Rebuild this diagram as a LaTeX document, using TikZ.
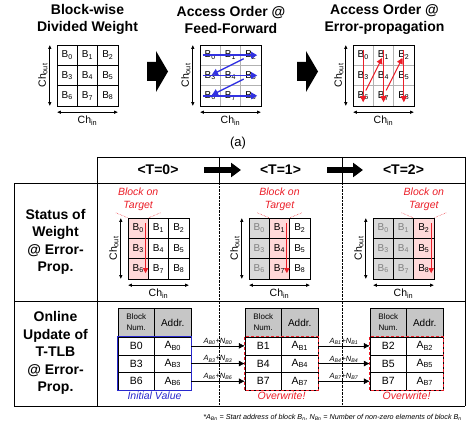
\documentclass[tikz,border=0pt]{standalone}
\usepackage{fontspec}
\setmainfont{Liberation Sans}
\usetikzlibrary{arrows.meta,positioning,calc}

\definecolor{ffblue}{RGB}{50,50,225}
\definecolor{bpred}{RGB}{235,30,40}
\definecolor{initblue}{RGB}{40,40,205}

\tikzset{
  cell/.style={draw, minimum size=20.33pt, inner sep=0pt, font=\fontsize{10}{12}\selectfont},
  chaxis/.style={line width=0.8pt, {Latex[length=4pt,width=3.5pt]}-{Latex[length=4pt,width=3.5pt]}},
  axlabel/.style={inner sep=0pt, font=\fontsize{10.5}{12}\selectfont},
  ttlstyle/.style={align=center, font=\bfseries\fontsize{14}{17}\selectfont},
  rowlabel/.style={align=center, font=\bfseries\fontsize{14}{17.5}\selectfont},
  tgtlabel/.style={align=center, text=bpred, inner sep=2pt, font=\itshape\fontsize{10.5}{13}\selectfont},
  tgtline/.style={bpred, densely dotted, line width=0.5pt},
  hdcell/.style={draw, fill=gray!45, minimum width=36.5pt, minimum height=29pt, inner sep=0pt, align=center},
  tcell/.style={draw, minimum width=36.5pt, minimum height=17.7pt, inner sep=0pt, font=\fontsize{10.5}{12}\selectfont},
  ffarrow/.style={ffblue, line width=1.4pt, -{Triangle[length=6pt,width=6.5pt]}},
  bparrow/.style={bpred, line width=1pt, -{Triangle[length=6pt,width=6pt]}},
  tgtarrow/.style={bpred, line width=1.2pt, -{Triangle[length=5pt,width=5pt]}},
  tblarrow/.style={line width=0.6pt, -{Latex[length=6pt,width=6pt]}},
  headarrow/.style={line width=6pt, -{Triangle[length=10pt,width=14pt]}},
  steplabel/.style={font=\itshape\fontsize{7.5}{9}\selectfont, inner sep=1pt},
}

\begin{document}
\begin{tikzpicture}[x=1pt,y=-1pt]
\useasboundingbox (0,0) rectangle (474,425);

% titles of part (a)
\node[ttlstyle] (ttla) at (87.5,19.5) {Block-wise\\Divided Weight};
\node[ttlstyle] (ttlb) at (231,19.5) {Access Order @\\Feed-Forward};
\node[ttlstyle] (ttlc) at (384.5,19.5) {Access Order @\\Error-propagation};

% weight grids
\foreach \g/\gx/\gy/\ng/\tc/\lc in
{a/57/45/0/9/black,
    b/200/45/0/9/gray!60,
    c/353/45/0/9/gray!60,
    s/128/218/0/0/black,
    t/249/218/1/1/black,
    u/373/218/2/2/black}
{
    \foreach \r in {0,1,2}
    \foreach \c in {0,1,2}
    {
        \pgfmathtruncatemacro\n{3*\r+\c}
        \ifnum\c<\ng \def\fc{gray!30}\def\tcol{gray}\else\ifnum\c=\tc \def\fc{red!15}\def\tcol{black}\else\def\fc{white}\def\tcol{black}\fi\fi
        \node[cell, draw=\lc, fill=\fc, text=\tcol] (\g\n) at ({\gx+20.33*\c+10.17},{\gy+20.33*\r+10.17}) {B\textsubscript{\n}};
    }
    \draw (\g0.north west) rectangle (\g8.south east);
    \draw[chaxis] ([xshift=-7pt]\g0.north west) -- ([xshift=-7pt]\g6.south west);
    \draw[chaxis] ([yshift=-6pt]\g6.south west) -- ([yshift=-6pt]\g8.south east);
    \node[axlabel, rotate=90] (\g-out) at ([xshift=-14pt]\g3.west) {Ch\textsubscript{out}};
    \node[axlabel] (\g-in) at ([yshift=-14.5pt]\g7.south) {Ch\textsubscript{in}};
};

% big arrows between grids
\foreach \ax in {147,297}
{
    \fill (\ax,62) -- ++(9,0) -- ++(0,-11) -- ++(12,20.5) -- ++(-12,20.5) -- ++(0,-11) -- ++(-9,0) -- cycle;
};

% feed-forward order
\foreach \u/\v in {b0/b2, b3/b5, b6/b8}
{
    \draw[ffarrow] ([xshift=3pt]\u.west) -- ([xshift=-4pt]\v.east);
};
\draw[ffarrow, shorten <=8pt, shorten >=2pt] (b2.center) -- (b3.center);
\draw[ffarrow, shorten <=8pt, shorten >=2pt] (b5.center) -- (b6.center);

% error-propagation order
\foreach \u/\v in {c0/c6, c1/c7, c2/c8}
{
    \draw[bparrow] ([yshift=-5pt]\u.north) -- ([yshift=4pt]\v.south);
};
\draw[bparrow, shorten <=6pt, shorten >=3pt] (c6.center) -- (c1.center);
\draw[bparrow, shorten <=6pt, shorten >=3pt] (c7.center) -- (c2.center);

\node[font=\fontsize{13}{15}\selectfont] (capa) at (238,143) {(a)};

% table frame
\draw (97,157) -- (465,157);
\draw (14,183) -- (465,183);
\draw (14,301) -- (465,301);
\draw (14,406) -- (465,406);
\draw (14,183) -- (14,406);
\draw (465,157) -- (465,406);
\draw (97,157) -- (97,406);
\draw (219,157) -- (219,183);
\draw (342,157) -- (342,183);
\draw[densely dotted] (219,183) -- (219,406);
\draw[densely dotted] (342,183) -- (342,406);

\node[rowlabel] (hd0) at (158,170) {<T=0>};
\node[rowlabel] (hd1) at (280.5,170) {<T=1>};
\node[rowlabel] (hd2) at (403.5,170) {<T=2>};
\coordinate (ha0) at (204,170);
\coordinate (hb0) at (241,170);
\coordinate (ha1) at (327,170);
\coordinate (hb1) at (363,170);
\draw[headarrow] (ha0) -- (hb0);
\draw[headarrow] (ha1) -- (hb1);

\node[rowlabel] (rl1) at (55.5,242) {Status of\\Weight\\@ Error-\\Prop.};
\node[rowlabel] (rl2) at (55.5,353) {Online\\Update of\\T-TLB\\@ Error-\\Prop.};

% block on target
\foreach \g/\tc/\bc in {s/0/6, t/1/7, u/2/8}
{
    \node[tgtlabel, above=5pt] (tl\g) at (\g\tc.north) {Block on\\Target};
    \draw[tgtline] (tl\g.south west) -- (\g\tc.north west);
    \draw[tgtline] (tl\g.south east) -- (\g\tc.north east);
    \draw[tgtarrow] ([xshift=-3pt,yshift=-5pt]\g\tc.north east) -- ([xshift=-3pt,yshift=6pt]\g\bc.south east);
};

% T-TLB tables
\foreach \tb/\tx/\bl in {p/118/{0,3,6}, q/245/{1,4,7}, r/370/{2,5,7}}
{
    \node[hdcell, font=\fontsize{8}{11}\selectfont] (\tb h0) at ({\tx+18.25},322.5) {Block\\Num.};
    \node[hdcell, font=\fontsize{10}{12}\selectfont] (\tb h1) at ({\tx+54.75},322.5) {Addr.};
    \foreach \b [count=\i] in \bl
    {
        \node[tcell] (\tb n\i) at ({\tx+18.25},{337+17.7*\i-8.85}) {B\b};
        \node[tcell] (\tb a\i) at ({\tx+54.75},{337+17.7*\i-8.85}) {A\textsubscript{B\b}};
    };
};
\draw[initblue, line width=0.7pt] (pn1.north west) rectangle (pa3.south east);
\draw[bpred, densely dashed, line width=0.7pt] (qn1.north west) rectangle (qa3.south east);
\draw[bpred, densely dashed, line width=0.7pt] (rn1.north west) rectangle (ra3.south east);

\node[below=0pt, text=initblue, inner sep=1pt, font=\itshape\fontsize{10.5}{12}\selectfont] (initv) at ($(pn3.south)!0.5!(pa3.south)$) {Initial Value};
\node[below=0pt, text=bpred, inner sep=1pt, font=\itshape\fontsize{10.5}{12}\selectfont] (ovq) at ($(qn3.south)!0.5!(qa3.south)$) {Overwrite!};
\node[below=0pt, text=bpred, inner sep=1pt, font=\itshape\fontsize{10.5}{12}\selectfont] (ovr) at ($(rn3.south)!0.5!(ra3.south)$) {Overwrite!};

\foreach \s/\d/\bl in {p/q/{0,3,6}, q/r/{1,4,7}}
{
    \foreach \b [count=\i] in \bl
    {
        \draw[tblarrow] (\s a\i.east) -- node[steplabel, above] {A\textsubscript{B\b}+N\textsubscript{B\b}} (\d n\i.west);
    };
};

\node[anchor=east, inner sep=0pt, font=\itshape\fontsize{7.2}{9}\selectfont] (fnote) at (462,417) {*A\textsubscript{Bn} = Start address of block B\textsubscript{n}, N\textsubscript{Bn} = Number of non-zero elements of block B\textsubscript{n}};

\end{tikzpicture}
\end{document}
